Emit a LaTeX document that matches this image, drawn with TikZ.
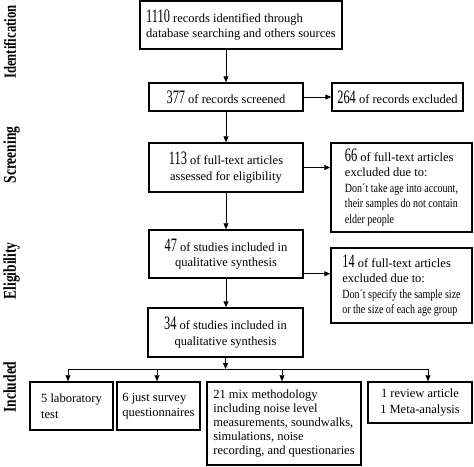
\documentclass[tikz,border=0pt]{standalone}
\usepackage{fontspec}
\usepackage{graphicx}
\setmainfont{Liberation Serif}
\newfontfamily\numfont[FakeStretch=0.65]{Liberation Serif}
\newfontfamily\condfont[FakeStretch=0.8]{Liberation Serif}
\newfontfamily\stagefont[FakeStretch=0.75]{Liberation Serif}
\usetikzlibrary{arrows.meta}
\newcommand\bignum[1]{{\numfont\fontsize{19}{15}\selectfont #1}}
\begin{document}
\begin{tikzpicture}[x=1pt,y=-1pt,
  box/.style={draw, line width=1.5pt, inner sep=0pt, align=center,
    font=\fontsize{12.5}{15.5}\selectfont},
  lbox/.style={box, align=left},
  arr/.style={line width=0.9pt, -{Triangle[length=6pt,width=5pt]}},
  busline/.style={line width=0.9pt},
  stage/.style={rotate=90, font=\stagefont\bfseries\fontsize{18}{18}\selectfont, inner sep=0pt, anchor=base}]
\useasboundingbox (0,0) rectangle (474,466);

% stage labels
\node[stage, font=\stagefont\bfseries\fontsize{17}{17}\selectfont] (s1) at (16,42) {Identification};
\node[stage] (s2) at (16,155) {Screening};
\node[stage] (s3) at (16,271) {Eligibility};
\node[stage] (s4) at (16,387) {Included};

% main column
\node[lbox, minimum width=202pt, minimum height=48pt] (n1) at (241,25)
  {\bignum{1110} records identified through\\database searching and others sources};
\node[box, minimum width=154pt, minimum height=28pt] (n2) at (226,97)
  {\bignum{377} of records screened};
\node[box, minimum width=131pt, minimum height=28pt] (n2x) at (397.5,97)
  {\bignum{264} of records excluded};
\node[box, minimum width=154pt, minimum height=49pt] (n3) at (226,167.5)
  {\bignum{113} of full-text articles\\assessed for eligibility};
\node[lbox, minimum width=141pt, minimum height=89pt] (n3x) at (401.5,187.5)
  {\bignum{66} of full-text articles\\excluded due to:\\{\condfont Don´t take age into account,}\\{\condfont their samples do not contain}\\{\condfont elder people}};
\node[box, minimum width=154pt, minimum height=48pt] (n4) at (226,254)
  {\bignum{47} of studies included in\\qualitative synthesis};
\node[lbox, minimum width=141pt, minimum height=75pt] (n4x) at (401.5,285.5)
  {\bignum{14} of full-text articles\\excluded due to:\\{\condfont Don´t specify the sample size}\\{\condfont or the size of each age group}};
\node[box, minimum width=155pt, minimum height=49pt] (n5) at (225.5,332.5)
  {\bignum{34} of studies included in\\qualitative synthesis};

% included boxes
\node[lbox, minimum width=83pt, minimum height=48pt] (b1) at (71.5,406)
  {5 laboratory\\test};
\node[lbox, minimum width=83pt, minimum height=48pt] (b2) at (158.5,406)
  {6 just survey\\questionnaires};
\node[lbox, minimum width=154pt, minimum height=83pt, font=\fontsize{12.5}{14.2}\selectfont] (b3) at (284,423.5)
  {21 mix methodology\\including noise level\\measurements, soundwalks,\\simulations, noise\\recording, and questionaries};
\node[box, minimum width=104pt, minimum height=41pt] (b4) at (420,402.5)
  {1 review article\\1 Meta-analysis};

% connectors
\draw[arr] (n1.south -| n2.north) -- (n2.north);
\draw[arr] (n2) -- (n2x);
\draw[arr] (n2) -- (n3);
\draw[arr] (n3.east) -- (n3.east -| n3x.west);
\draw[arr] (n3) -- (n4);
\draw[arr] ([yshift=5pt]n4.south east) -- ([yshift=5pt]n4.south east -| n4x.west);
\draw[arr] (n4.south) -- (n4.south |- n5.north);

\coordinate (bus) at (226,369);
\coordinate (d1) at (68,369);
\coordinate (d2) at (157,369);
\coordinate (d3) at (282,369);
\coordinate (d4) at (428,369);
\draw[arr] (n5.south) -- (n5.south |- bus);
\draw[busline] (d1) -- (d4);
\draw[arr] (d1) -- (d1 |- b1.north);
\draw[arr] (d2) -- (d2 |- b2.north);
\draw[arr] (d3) -- (d3 |- b3.north);
\draw[arr] (d4) -- (d4 |- b4.north);
\end{tikzpicture}
\end{document}
